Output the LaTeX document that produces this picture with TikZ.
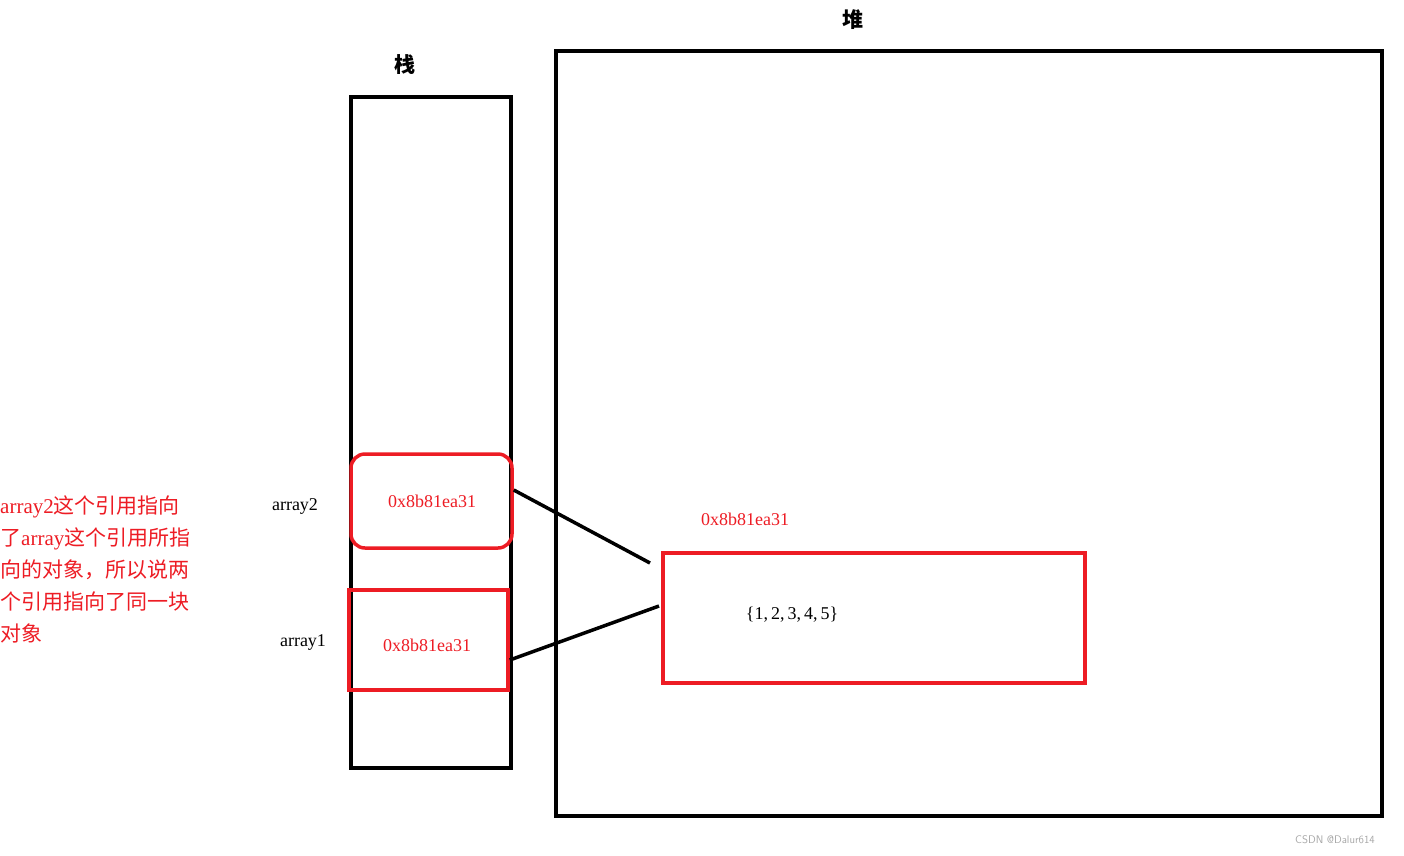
\documentclass[tikz,border=0pt]{standalone}
\usepackage{fontspec}
\setmainfont{Liberation Serif}
\newfontfamily\cjk{Noto Sans CJK SC}
\definecolor{myred}{RGB}{237,28,36}
\begin{document}
\begin{tikzpicture}[x=1pt,y=-1pt,
  box/.style={draw=black,line width=3.5pt},
  rbox/.style={draw=myred,line width=3.5pt},
  conn/.style={draw=black,line width=3.5pt},
  lbl/.style={font=\fontsize{18}{20}\selectfont},
  rlbl/.style={font=\fontsize{18}{20}\selectfont,text=myred},
  note/.style={font=\fontsize{21}{32}\selectfont,text=myred,align=left,anchor=north west,inner sep=0pt}]
\useasboundingbox (0,0) rectangle (1404,855);
\draw[box] (351,97) rectangle (511,768);
\draw[box] (556,51) rectangle (1382,816);
\node[font=\cjk\bfseries\fontsize{21}{22}\selectfont] (zhan) at (405,65) {栈};
\node[font=\cjk\bfseries\fontsize{21}{22}\selectfont] (dui) at (853,20) {堆};
\node[rbox,rounded corners=14pt,minimum width=161pt,minimum height=94pt] (a2) at (431.5,501) {};
\node[rbox,minimum width=159pt,minimum height=100pt] (a1) at (428.5,640) {};
\node[rbox,minimum width=422pt,minimum height=130pt] (obj) at (874,618) {};
\node[rlbl] at (432,501) {0x8b81ea31};
\node[rlbl] at (427,645) {0x8b81ea31};
\node[rlbl] (addr) at (745,519) {0x8b81ea31};
\node[lbl] at (792,615) {\{1,\,2,\,3,\,4,\,5\}};
\node[lbl] (n2) at (295,506) {array2};
\node[lbl] (n1) at (303,642) {array1};
\coordinate (e2) at (650,563);
\coordinate (e1) at (659,606);
\draw[conn] (a2.east) ++(0,-11) -- (e2);
\draw[conn] (a1.east) ++(0,20) -- (e1);
\node[note] (txt) at (0,496) {array2{\cjk 这个引用指向}\\{\cjk 了}array{\cjk 这个引用所指}\\{\cjk 向的对象，所以说两}\\{\cjk 个引用指向了同一块}\\{\cjk 对象}};
\node[font=\sffamily\fontsize{11}{12}\selectfont,text=gray!70] (wm) at (1335,840) {CSDN @Dalur614};
\end{tikzpicture}
\end{document}
